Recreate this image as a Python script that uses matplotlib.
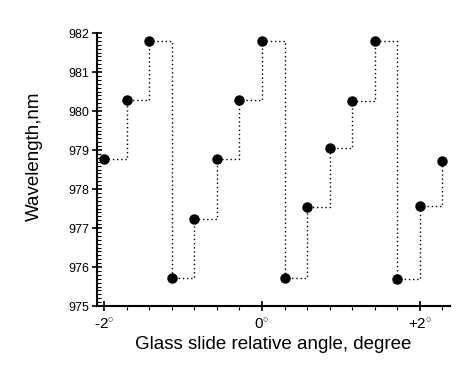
import matplotlib
matplotlib.use("Agg")
import matplotlib.pyplot as plt
from matplotlib.ticker import MultipleLocator, FixedLocator

angle = [-2.0, -1.714, -1.429, -1.143, -0.857, -0.571, -0.286, 0.0,
         0.286, 0.571, 0.857, 1.143, 1.429, 1.714, 2.0, 2.286]
wavelength = [978.77, 980.28, 981.80, 975.72, 977.22, 978.78, 980.28, 981.80,
              975.72, 977.53, 979.05, 980.25, 981.80, 975.68, 977.57, 978.72]
xtick_pos = [-2, 0, 2]
xtick_labels = ["-2$^{\\circ}$", "0$^{\\circ}$", "+2$^{\\circ}$"]
xminor_pos = angle

plt.rcParams['font.family'] = ['Liberation Sans', 'DejaVu Sans']
plt.rcParams['mathtext.fontset'] = 'custom'
plt.rcParams['mathtext.rm'] = 'Liberation Sans'
plt.rcParams['mathtext.it'] = 'Liberation Sans'

fig = plt.figure(figsize=(4.74, 3.87), dpi=100)
ax = fig.add_axes([0.2046, 0.2093, 0.7444, 0.7054])

ax.plot(angle, wavelength, drawstyle='steps-post', color='black',
        linestyle=(0, (1, 2)), lw=1.0)
ax.plot(angle, wavelength, 'o', color='black', markersize=6.5, zorder=3)

ax.set_xlim(-2.09, 2.38)
ax.set_ylim(975, 982)
ax.spines['top'].set_visible(False)
ax.spines['right'].set_visible(False)
ax.spines['left'].set_linewidth(1.5)
ax.spines['bottom'].set_linewidth(1.5)

ax.xaxis.set_major_locator(FixedLocator(xtick_pos))
ax.set_xticklabels(xtick_labels)
ax.xaxis.set_minor_locator(FixedLocator(xminor_pos))
ax.yaxis.set_major_locator(MultipleLocator(1))
ax.yaxis.set_minor_locator(MultipleLocator(0.1))

ax.tick_params(axis='y', which='major', direction='inout', length=7, width=1.2, labelsize=9, pad=2)
ax.tick_params(axis='y', which='minor', direction='in', length=3, width=0.8)
ax.tick_params(axis='x', which='major', direction='inout', length=7, width=1.2, labelsize=11, pad=5)
ax.tick_params(axis='x', which='minor', direction='out', length=3, width=0.8)

ax.set_ylabel("Wavelength,nm", fontsize=13.5)
ax.yaxis.set_label_coords(-0.153, 0.55)
ax.set_xlabel("Glass slide relative angle, degree", fontsize=13.5, labelpad=3)

fig.savefig("out.png", dpi=100)
